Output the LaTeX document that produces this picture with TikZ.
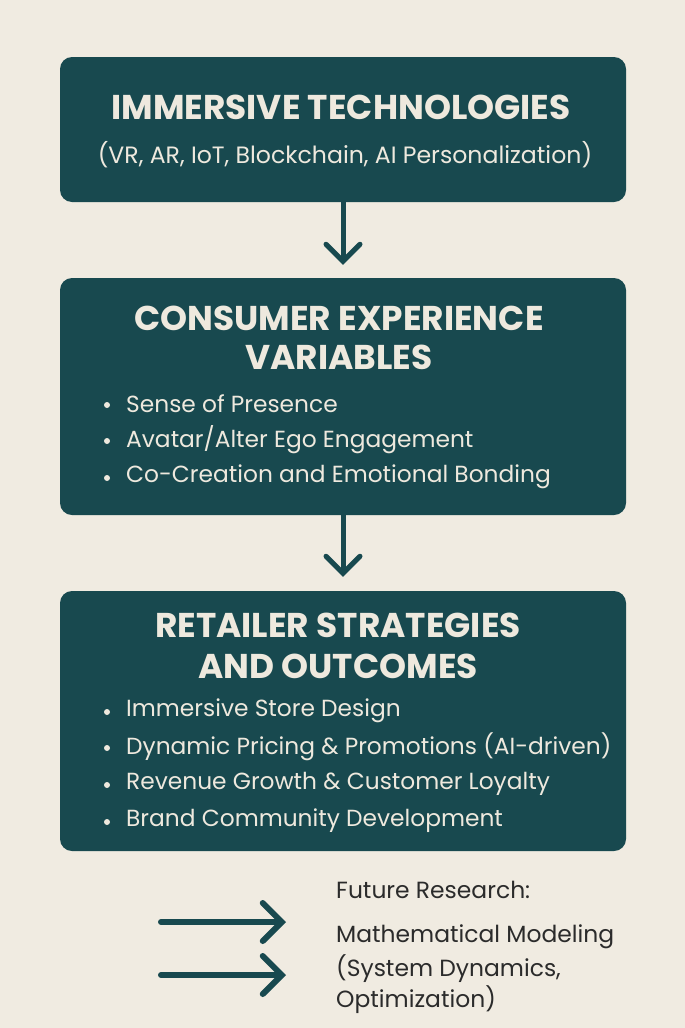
\documentclass[tikz,border=0pt]{standalone}
\usepackage{fontspec}
\setmainfont{Poppins}
\newfontfamily\titlefont{Poppins}
\newfontfamily\bodyfont{Poppins}
\usetikzlibrary{arrows.meta}
\definecolor{bgc}{HTML}{F0EBE1}
\definecolor{teal}{HTML}{18494F}
\definecolor{cream}{HTML}{EEE9DE}
\definecolor{ink}{HTML}{2B2B2B}
\tikzset{
  box/.style={fill=teal, rounded corners=12bp, draw=none},
  ttl/.style={text=cream, font=\titlefont\bfseries\fontsize{34.5}{38}\selectfont, anchor=center, inner sep=0},
  sub/.style={text=cream, font=\bodyfont\fontsize{23.7}{28}\selectfont, anchor=center, inner sep=0},
  item/.style={text=cream, font=\bodyfont\fontsize{23.4}{28}\selectfont, anchor=west, inner sep=0},
  dot/.style={circle, fill=cream, minimum size=6bp, inner sep=0},
  side/.style={text=ink, font=\bodyfont\fontsize{23.5}{27}\selectfont, anchor=west, inner sep=0},
  down/.style={draw=teal, line width=5bp, -{Straight Barb[length=17bp, width=34bp, line width=5bp, line cap=round]}},
  right/.style={draw=teal, line width=6bp, line cap=round, -{Straight Barb[length=19bp, width=38bp, line width=6bp, line cap=round]}}
}
\begin{document}
\begin{tikzpicture}[x=1bp, y=-1bp]
\fill[bgc] (0,0) rectangle (685,1028);
\useasboundingbox (0,0) rectangle (685,1028);
% boxes
\path[box] (60,57) rectangle (626,202);
\node[minimum width=566bp, minimum height=145bp, inner sep=0] (box1) at (343,129.5) {};
\path[box] (60,278) rectangle (626,515);
\node[minimum width=566bp, minimum height=237bp, inner sep=0] (box2) at (343,396.5) {};
\path[box] (60,591) rectangle (626,851);
\node[minimum width=566bp, minimum height=260bp, inner sep=0] (box3) at (343,721) {};
% box 1
\node[ttl] (t1) at (341,107) {IMMERSIVE TECHNOLOGIES};
\node[sub] (s1) at (345,155) {(VR, AR, IoT, Blockchain, AI Personalization)};
% box 2
\node[ttl] (t2a) at (339,318) {CONSUMER EXPERIENCE};
\node[ttl] (t2b) at (339,357) {VARIABLES};
\node[dot] (d21) at (107,405) {};
\node[item] (i21) at (126,404) {Sense of Presence};
\node[dot] (d22) at (107,441) {};
\node[item] (i22) at (126,440) {Avatar/Alter Ego Engagement};
\node[dot] (d23) at (107,478) {};
\node[item] (i23) at (126,477) {Co-Creation and Emotional Bonding};
% box 3
\node[ttl] (t3a) at (338,625) {RETAILER STRATEGIES};
\node[ttl] (t3b) at (338,666) {AND OUTCOMES};
\node[dot] (d31) at (107,712) {};
\node[item] (i31) at (126,711) {Immersive Store Design};
\node[dot] (d32) at (107,748) {};
\node[item] (i32) at (126,747) {Dynamic Pricing \& Promotions (AI-driven)};
\node[dot] (d33) at (107,785) {};
\node[item] (i33) at (126,784) {Revenue Growth \& Customer Loyalty};
\node[dot] (d34) at (107,822) {};
\node[item] (i34) at (126,821) {Brand Community Development};
% connectors
\draw[down, shorten >=13bp] (box1.south) -- (box2.north);
\draw[down, shorten >=14bp] (box2.south) -- (box3.north);
% bottom
\coordinate (a1s) at (161,922);
\coordinate (a1e) at (286,922);
\coordinate (a2s) at (161,975);
\coordinate (a2e) at (286,975);
\draw[right] (a1s) -- (a1e);
\draw[right] (a2s) -- (a2e);
\node[side] (f1) at (336,890) {Future Research:};
\node[side] (f2) at (336,937) {Mathematical Modeling};
\node[side] (f3) at (336,969) {(System Dynamics,};
\node[side] (f4) at (336,1000) {Optimization)};
\end{tikzpicture}
\end{document}
